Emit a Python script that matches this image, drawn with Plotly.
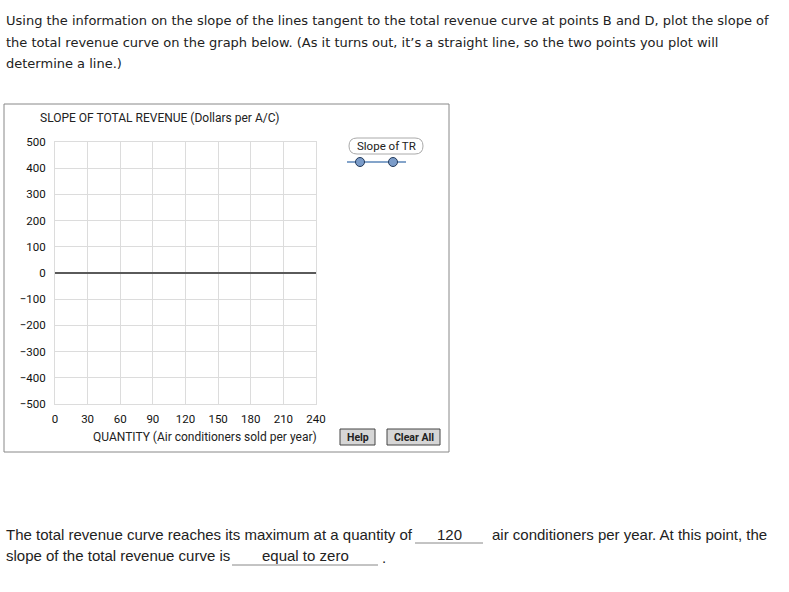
import plotly.graph_objects as go

# Datos del gráfico
x_ticks = [0, 30, 60, 90, 120, 150, 180, 210, 240]
y_ticks = [-500, -400, -300, -200, -100, 0, 100, 200, 300, 400, 500]
slope_q = []      # puntos de la pendiente (todavía sin dibujar)
slope_val = []
max_quantity = "120"
slope_answer = "equal to zero"

# área del gráfico en píxeles
L, R, T, B = 55, 316, 142, 404
W, H = 789, 592


def px(x):
    return (x - L) / (R - L)


def py(y):
    return (B - y) / (B - T)


fig = go.Figure()
fig.add_trace(go.Scatter(x=slope_q, y=slope_val, mode="lines+markers", name="Slope of TR",
                         line=dict(color="#5b86b8"), showlegend=False))

tick_font = dict(family="Roboto, DejaVu Sans", size=11.5, color="#111")
fig.update_layout(
    width=W, height=H,
    margin=dict(l=L, r=W - R, t=T, b=H - B),
    paper_bgcolor="white", plot_bgcolor="white",
    showlegend=False,
    xaxis=dict(range=[0, 240], tickvals=x_ticks, showgrid=True, gridcolor="#dcdcdc",
               zeroline=False, showline=True, linecolor="#dcdcdc", mirror=True,
               tickfont=tick_font, ticks="", ticklabelstandoff=4, fixedrange=True),
    yaxis=dict(range=[-500, 500], tickvals=y_ticks, showgrid=True, gridcolor="#dcdcdc",
               zeroline=True, zerolinecolor="#5a5a5a", zerolinewidth=1.5,
               showline=True, linecolor="#dcdcdc", mirror=True,
               tickfont=tick_font, ticks="", ticklabelstandoff=6, fixedrange=True),
)

shapes = []
# marco exterior
shapes.append(dict(type="rect", xref="paper", yref="paper",
                   x0=px(4), x1=px(449), y0=py(452), y1=py(104),
                   line=dict(color="#888", width=1), layer="below"))


# caja redondeada de la leyenda
def rounded(x0, y0, x1, y1, r):
    p = [f"M{px(x0 + r)},{py(y0)}", f"L{px(x1 - r)},{py(y0)}",
         f"Q{px(x1)},{py(y0)} {px(x1)},{py(y0 + r)}", f"L{px(x1)},{py(y1 - r)}",
         f"Q{px(x1)},{py(y1)} {px(x1 - r)},{py(y1)}", f"L{px(x0 + r)},{py(y1)}",
         f"Q{px(x0)},{py(y1)} {px(x0)},{py(y1 - r)}", f"L{px(x0)},{py(y0 + r)}",
         f"Q{px(x0)},{py(y0)} {px(x0 + r)},{py(y0)}", "Z"]
    return " ".join(p)


shapes.append(dict(type="path", xref="paper", yref="paper", path=rounded(349, 138, 423, 154, 8),
                   line=dict(color="#aaa", width=1), fillcolor="white"))
shapes.append(dict(type="line", xref="paper", yref="paper", x0=px(347), x1=px(406),
                   y0=py(162), y1=py(162), line=dict(color="#5b86b8", width=1.5)))
for cx in (360, 393):
    shapes.append(dict(type="circle", xref="paper", yref="paper",
                       x0=px(cx - 4.5), x1=px(cx + 4.5), y0=py(166.5), y1=py(157.5),
                       fillcolor="#7b9cc9", line=dict(color="#233a5a", width=1)))

# botones
for bx0, bx1 in ((340, 375), (387, 440)):
    shapes.append(dict(type="rect", xref="paper", yref="paper",
                       x0=px(bx0), x1=px(bx1), y0=py(445), y1=py(429),
                       fillcolor="#d6d6d6", line=dict(color="#444", width=1)))

# subrayados de respuestas
shapes.append(dict(type="line", xref="paper", yref="paper", x0=px(415), x1=px(483),
                   y0=py(543), y1=py(543), line=dict(color="#888", width=1)))
shapes.append(dict(type="line", xref="paper", yref="paper", x0=px(232), x1=px(378),
                   y0=py(565), y1=py(565), line=dict(color="#888", width=1)))
fig.update_layout(shapes=shapes)


def text(x, y, s, size=11, family="Roboto, DejaVu Sans", anchor="left", color="#222", bold=False):
    if bold:
        s = "<b>" + s + "</b>"
    fig.add_annotation(xref="paper", yref="paper", x=px(x), y=py(y), text=s,
                       showarrow=False, xanchor=anchor, yanchor="middle",
                       font=dict(family=family, size=size, color=color))


top_font = "Verdana, DejaVu Sans"
text(4, 20, "Using the information on the slope of the lines tangent to the total revenue curve at points B and D, plot the slope of",
     size=13, family=top_font)
text(4, 42, "the total revenue curve on the graph below. (As it turns out, it\u2019s a straight line, so the two points you plot will",
     size=13, family=top_font)
text(4, 63, "determine a line.)", size=13, family=top_font)

text(38, 118, "SLOPE OF TOTAL REVENUE (Dollars per A/C)", size=12)
text(319, 437, "QUANTITY (Air conditioners sold per year)", size=12, anchor="right")
text(386, 146, "Slope of TR", size=11.5, anchor="center")
text(357.5, 437, "Help", size=10.5, anchor="center", bold=True)
text(413.5, 437, "Clear All", size=10.5, anchor="center", bold=True)

bot_font = "Liberation Sans, Arial"
text(4, 534, "The total revenue curve reaches its maximum at a quantity of", size=15, family=bot_font)
text(449, 534, max_quantity, size=15, family=bot_font, anchor="center")
text(490, 534, "air conditioners per year. At this point, the", size=15, family=bot_font)
text(4, 555, "slope of the total revenue curve is", size=15, family=bot_font)
text(305, 555, slope_answer, size=15, family=bot_font, anchor="center")
text(384, 557, ".", size=15, family=bot_font, anchor="center")

# quitar el margen del body para que la figura empiece en (0, 0)
fig.write_html("out.html", config={"displayModeBar": False},
               post_script="document.body.style.margin='0';")
